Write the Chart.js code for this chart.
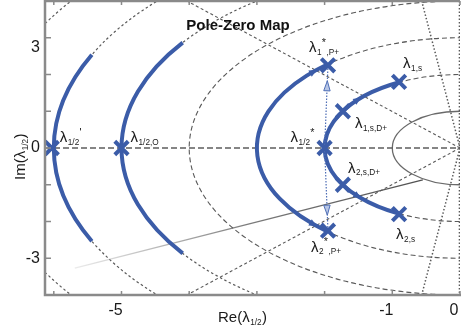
<!DOCTYPE html>
<html>
<head>
<meta charset="utf-8">
<script src="https://cdn.jsdelivr.net/npm/chart.js@4.4.1/dist/chart.umd.min.js"></script>
<style>
  html, body { margin: 0; padding: 0; background: #fff; }
  #wrap { width: 474px; height: 335px; }
</style>
</head>
<body>
<div id="wrap"><canvas id="c"></canvas></div>
<script>
// Roots in the s-plane: real and imaginary parts
const poleRe = [-6.03, -5.0, -2.0, -1.95, -1.95, -0.9, -1.73, -1.73, -0.9];
const poleIm = [0, 0, 0, 2.25, -2.25, 1.8, 1.0, -1.0, -1.8];
// Root names: [text, kind] with kind n = normal, b = subscript, p = superscript
const poleNames = [
  [['λ', 'n'], ['1/2', 'b'], ["'", 'p']],
  [['λ', 'n'], ['1/2,O', 'b']],
  [['λ', 'n'], ['1/2', 'b'], ['*', 'p']],
  [['λ', 'n'], ['1', 'b'], ['*', 'p'], [',P+', 'b']],
  [['λ', 'n'], ['2', 'b'], ['*', 'p'], [',P+', 'b']],
  [['λ', 'n'], ['1,s', 'b']],
  [['λ', 'n'], ['1,s,D+', 'b']],
  [['λ', 'n'], ['2,s,D+', 'b']],
  [['λ', 'n'], ['2,s', 'b']]
];
// Root-locus branches on constant natural-frequency arcs (half span from the negative real axis, degrees)
const locusWn = [6, 5, 3, 2];
const locusHalfSpan = [25, 35, 49, 63.4];
// Direction arrows along the branches (radius, angle from +real axis in degrees)
const arrowWn = [3, 2, 2, 3];
const arrowAngle = [136.5, 139.5, 220.5, 223.5];
// Root shifts drawn as dotted arrows (index of start root -> end root)
const shiftFrom = [2, 2];
const shiftTo = [3, 4];
// s-plane grid
const wnDashed = [2, 3, 4];
const wnFine = [5, 6, 7];
const wnSolid = [1];
const zetaDashed = [0.71];
const zetaDotted = [0.14];
// Straight trajectory line
const trajRe = [-5.69, -0.55];
const trajIm = [-3.27, -0.87];
// Labelled ticks
const xTickLabels = [-5, -1, 0];
const yTickLabels = [3, 0, -3];

// Label placement relative to each root, in pixels (left of λ, baseline)
const labelOffset = [[8, -6], [9, -6], [-34, -6], [-19, -13], [-17, 21], [4, -14], [12, 17], [5, -12], [-3, 25]];

const BLUE = '#3b5ca8';
const GRAY = '#595959';
const FONT = '"Liberation Sans", Arial, sans-serif';

function richText(ctx, x, y, parts, base) {
  ctx.textAlign = 'left';
  ctx.textBaseline = 'alphabetic';
  for (const [t, k] of parts) {
    const size = k === 'n' ? base : (k === 'b' ? base * 0.55 : base * 0.72);
    const dy = k === 'b' ? base * 0.18 : (k === 'p' ? -base * 0.42 : 0);
    ctx.font = size + 'px ' + FONT;
    ctx.fillText(t, x, y + dy);
    x += ctx.measureText(t).width + (k === 'n' ? 0.5 : 0.3);
  }
  return x;
}

const splanePlugin = {
  id: 'splane',
  beforeDatasetsDraw(chart) {
    const ctx = chart.ctx, a = chart.chartArea;
    const xs = chart.scales.x, ys = chart.scales.y;
    const cx = xs.getPixelForValue(0), cy = ys.getPixelForValue(0);
    const rx = r => cx - xs.getPixelForValue(-r);
    const ry = r => ys.getPixelForValue(-r) - cy;
    ctx.save();
    ctx.beginPath();
    ctx.rect(a.left, a.top, a.right - a.left, a.bottom - a.top);
    ctx.clip();

    const circle = (r, dash, w, col) => {
      ctx.beginPath();
      ctx.setLineDash(dash);
      ctx.lineWidth = w;
      ctx.strokeStyle = col;
      ctx.ellipse(cx, cy, rx(r), ry(r), 0, 0, Math.PI * 2);
      ctx.stroke();
    };
    wnSolid.forEach(r => circle(r, [], 1.3, '#6a6a6a'));
    wnDashed.forEach(r => circle(r, [5, 3], 1.1, GRAY));
    wnFine.forEach(r => circle(r, [2.5, 2.5], 1.2, GRAY));

    const ray = (zeta, dash, w) => {
      const b = Math.acos(zeta);
      [1, -1].forEach(s => {
        ctx.beginPath();
        ctx.setLineDash(dash);
        ctx.lineWidth = w;
        ctx.strokeStyle = GRAY;
        ctx.moveTo(cx, cy);
        ctx.lineTo(xs.getPixelForValue(-20 * Math.cos(b)), ys.getPixelForValue(s * 20 * Math.sin(b)));
        ctx.stroke();
      });
    };
    zetaDashed.forEach(z => ray(z, [3, 2.5], 1.1));
    zetaDotted.forEach(z => ray(z, [1.5, 2], 1.5));

    // real axis
    ctx.beginPath();
    ctx.setLineDash([6, 3]);
    ctx.lineWidth = 1.3;
    ctx.strokeStyle = '#5e5e5e';
    ctx.moveTo(a.left, cy);
    ctx.lineTo(cx, cy);
    ctx.stroke();
    // imaginary axis
    ctx.beginPath();
    ctx.setLineDash([1.5, 2]);
    ctx.lineWidth = 1.6;
    ctx.strokeStyle = GRAY;
    ctx.moveTo(cx - 0.5, a.top);
    ctx.lineTo(cx - 0.5, a.bottom);
    ctx.stroke();
    ctx.restore();
  },
  beforeDatasetDraw(chart, args) {
    if (args.index !== 0) return;
    const ctx = chart.ctx;
    const xs = chart.scales.x, ys = chart.scales.y;
    const cx = xs.getPixelForValue(0), cy = ys.getPixelForValue(0);
    const P = (re, im) => [xs.getPixelForValue(re), ys.getPixelForValue(im)];
    ctx.save();
    // locus branches
    locusWn.forEach((r, i) => {
      const h = locusHalfSpan[i] * Math.PI / 180;
      ctx.beginPath();
      ctx.setLineDash([]);
      ctx.lineWidth = 4;
      ctx.lineCap = 'butt';
      ctx.strokeStyle = BLUE;
      ctx.ellipse(cx, cy, cx - xs.getPixelForValue(-r), ys.getPixelForValue(-r) - cy, 0,
        Math.PI - h, Math.PI + h);
      ctx.stroke();
    });
    // direction arrows
    arrowWn.forEach((r, i) => {
      const ph = arrowAngle[i] * Math.PI / 180;
      const dph = (arrowAngle[i] > 180 ? 1 : -1) * 0.02;
      const p = P(r * Math.cos(ph), r * Math.sin(ph));
      const q = P(r * Math.cos(ph + dph), r * Math.sin(ph + dph));
      let dx = q[0] - p[0], dy = q[1] - p[1];
      const L = Math.hypot(dx, dy); dx /= L; dy /= L;
      const nx = -dy, ny = dx;
      ctx.beginPath();
      ctx.fillStyle = BLUE;
      ctx.moveTo(p[0] + dx * 5, p[1] + dy * 5);
      ctx.lineTo(p[0] - dx * 3 + nx * 3.5, p[1] - dy * 3 + ny * 3.5);
      ctx.lineTo(p[0] - dx * 3 - nx * 3.5, p[1] - dy * 3 - ny * 3.5);
      ctx.closePath();
      ctx.fill();
    });
    // dotted shift arrows
    shiftFrom.forEach((f, i) => {
      const t = shiftTo[i];
      const p0 = P(poleRe[f], poleIm[f]), p1 = P(poleRe[t], poleIm[t]);
      ctx.beginPath();
      ctx.setLineDash([1.5, 1.5]);
      ctx.lineWidth = 1.2;
      ctx.strokeStyle = '#4d6db5';
      ctx.moveTo(p0[0], p0[1]);
      ctx.lineTo(p1[0], p1[1]);
      ctx.stroke();
      let dx = p1[0] - p0[0], dy = p1[1] - p0[1];
      const L = Math.hypot(dx, dy); dx /= L; dy /= L;
      const nx = -dy, ny = dx;
      const m = [p0[0] + (p1[0] - p0[0]) * 0.74, p0[1] + (p1[1] - p0[1]) * 0.74];
      ctx.beginPath();
      ctx.setLineDash([]);
      ctx.lineWidth = 1;
      ctx.fillStyle = '#b7c6e6';
      ctx.strokeStyle = '#4d6db5';
      ctx.moveTo(m[0] + dx * 6, m[1] + dy * 6);
      ctx.lineTo(m[0] - dx * 4 + nx * 3.2, m[1] - dy * 4 + ny * 3.2);
      ctx.lineTo(m[0] - dx * 4 - nx * 3.2, m[1] - dy * 4 - ny * 3.2);
      ctx.closePath();
      ctx.fill();
      ctx.stroke();
    });
    ctx.restore();
  },
  afterDraw(chart) {
    const ctx = chart.ctx, a = chart.chartArea;
    const xs = chart.scales.x, ys = chart.scales.y;
    ctx.save();
    // frame with inward ticks
    ctx.strokeStyle = '#8a8a8a';
    ctx.lineWidth = 2.5;
    ctx.setLineDash([]);
    ctx.beginPath();
    ctx.moveTo(a.right, a.top); ctx.lineTo(a.left, a.top);
    ctx.lineTo(a.left, a.bottom); ctx.lineTo(a.right + 1, a.bottom);
    ctx.stroke();
    ctx.lineWidth = 1.5;
    ctx.beginPath();
    xs.ticks.forEach(t => {
      const x = xs.getPixelForValue(t.value);
      ctx.moveTo(x, a.bottom); ctx.lineTo(x, a.bottom - 4);
      ctx.moveTo(x, a.top); ctx.lineTo(x, a.top + 4);
    });
    ys.ticks.forEach(t => {
      const y = ys.getPixelForValue(t.value);
      ctx.moveTo(a.left, y); ctx.lineTo(a.left + 6, y);
    });
    ctx.stroke();

    // root labels
    ctx.fillStyle = '#1a1a1a';
    poleNames.forEach((parts, i) => {
      const x = xs.getPixelForValue(poleRe[i]) + labelOffset[i][0];
      const y = ys.getPixelForValue(poleIm[i]) + labelOffset[i][1];
      richText(ctx, x, y, parts, 15);
    });

    // title
    ctx.font = 'bold 15px ' + FONT;
    ctx.textAlign = 'center';
    ctx.textBaseline = 'alphabetic';
    ctx.fillStyle = '#111';
    ctx.fillText('Pole-Zero Map', chart.width / 2 + 1, 30);

    // axis titles
    ctx.fillStyle = '#1a1a1a';
    richText(ctx, 218, 322, [['Re(λ', 'n'], ['1/2', 'b'], [')', 'n']], 15);
    ctx.translate(25, 180);
    ctx.rotate(-Math.PI / 2);
    richText(ctx, 0, 0, [['Im(λ', 'n'], ['1/2', 'b'], [')', 'n']], 15);
    ctx.restore();
  }
};

new Chart(document.getElementById('c'), {
  type: 'scatter',
  data: {
    datasets: [
      {
        data: poleRe.map((re, i) => ({ x: re, y: poleIm[i] })),
        pointStyle: 'crossRot',
        pointRadius: 9.5,
        pointBorderWidth: 4,
        pointBorderColor: BLUE,
        pointBackgroundColor: BLUE,
        showLine: false
      },
      {
        data: trajRe.map((re, i) => ({ x: re, y: trajIm[i] })),
        showLine: true,
        pointRadius: 0,
        borderWidth: 1.3,
        borderColor: (c) => {
          const ch = c.chart;
          if (!ch.chartArea) return '#777';
          const g = ch.ctx.createLinearGradient(ch.scales.x.getPixelForValue(trajRe[0]), 0,
            ch.scales.x.getPixelForValue(trajRe[1]), 0);
          g.addColorStop(0, 'rgba(120,120,120,0.15)');
          g.addColorStop(0.5, 'rgba(100,100,100,0.85)');
          g.addColorStop(1, 'rgba(80,80,80,1)');
          return g;
        }
      }
    ]
  },
  options: {
    responsive: true,
    maintainAspectRatio: false,
    animation: false,
    events: [],
    layout: { autoPadding: false, padding: { top: 1, right: 14, left: 0, bottom: 0 } },
    plugins: { legend: { display: false }, tooltip: { enabled: false }, title: { display: false } },
    scales: {
      x: {
        type: 'linear', min: -6.13, max: 0,
        grid: { display: false, drawTicks: false }, border: { display: false },
        afterFit: s => { s.height = 40; s.paddingLeft = 0; s.paddingRight = 0; },
        ticks: {
          stepSize: 1, includeBounds: false, padding: 6, labelOffset: -6,
          color: '#1a1a1a', font: { family: FONT, size: 16 },
          maxRotation: 0, autoSkip: false,
          callback: v => xTickLabels.includes(v) ? String(v) : ''
        }
      },
      y: {
        type: 'linear', min: -4, max: 4,
        grid: { display: false, drawTicks: false }, border: { display: false },
        afterFit: s => { s.width = 45; s.paddingTop = 0; s.paddingBottom = 0; },
        ticks: {
          stepSize: 1, includeBounds: false, padding: 5,
          color: '#1a1a1a', font: { family: FONT, size: 16 },
          autoSkip: false,
          callback: v => yTickLabels.includes(v) ? (v > 0 ? ['', String(v)] : String(v)) : ''
        }
      }
    }
  },
  plugins: [splanePlugin]
});
</script>
</body>
</html>
